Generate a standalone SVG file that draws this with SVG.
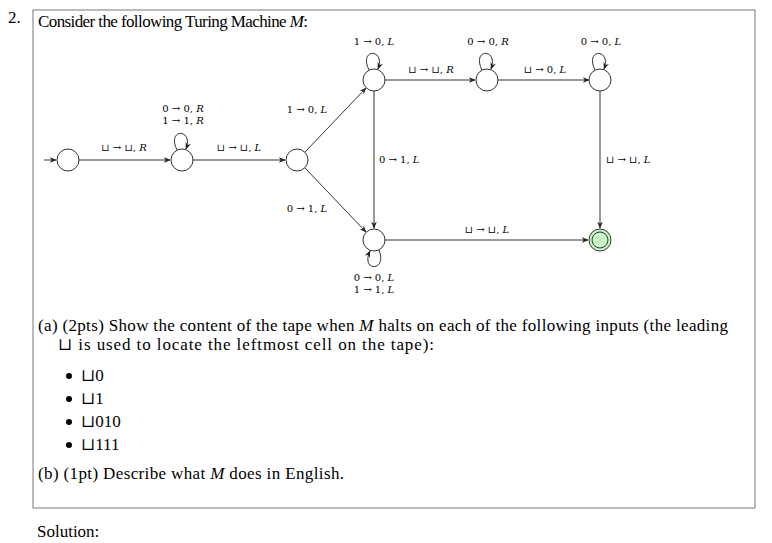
<svg xmlns="http://www.w3.org/2000/svg" width="772" height="543" viewBox="0 0 772 543">
<style>
text{font-family:"Liberation Serif","DejaVu Serif",serif;fill:#000}
.t{font-size:17px}
.s{font-size:10px;font-family:"DejaVu Serif",serif}
.st{fill:#fff;stroke:#333;stroke-width:1}
.e{fill:none;stroke:#333;stroke-width:1}
</style>
<defs><marker id="a" viewBox="0 0 10 10" refX="9" refY="5" markerWidth="7" markerHeight="7" orient="auto"><path d="M0,1 L10,5 L0,9 L3,5z" fill="#222"/></marker></defs>
<rect width="772" height="543" fill="#fff"/>
<text class="t" x="8" y="23">2.</text>
<rect x="33" y="10" width="722" height="498" fill="none" stroke="#555" stroke-width="0.8"/>
<text class="t" x="38" y="27" textLength="270">Consider the following Turing Machine <tspan font-style="italic">M</tspan>:</text>
<g id="connectors">
<path class="e" d="M44,160 H56" marker-end="url(#a)"/>
<path class="e" d="M79,160 H170" marker-end="url(#a)"/>
<path class="e" d="M193,160 H285" marker-end="url(#a)"/>
<path class="e" d="M305,152 L366,88" marker-end="url(#a)"/>
<path class="e" d="M305,168 L366,232" marker-end="url(#a)"/>
<path class="e" d="M385,80 H475" marker-end="url(#a)"/>
<path class="e" d="M498,80 H589" marker-end="url(#a)"/>
<path class="e" d="M374,91 V228" marker-end="url(#a)"/>
<path class="e" d="M600,91 V228" marker-end="url(#a)"/>
<path class="e" d="M385,240 H588" marker-end="url(#a)"/>
<path class="e" d="M177,150 C166,128 194,128 186,149" marker-end="url(#a)"/>
<path class="e" d="M369,70 C358,48 386,48 378,69" marker-end="url(#a)"/>
<path class="e" d="M482,70 C471,48 499,48 491,69" marker-end="url(#a)"/>
<path class="e" d="M595,70 C584,48 612,48 604,69" marker-end="url(#a)"/>
<path class="e" d="M379,250 C388,272 360,272 370,251" marker-end="url(#a)"/>
</g>
<g id="labels">
<text class="s" x="124" y="151" text-anchor="middle">⊔ → ⊔, <tspan font-style="italic">R</tspan></text>
<text class="s" x="183" y="112" text-anchor="middle">0 → 0, <tspan font-style="italic">R</tspan></text>
<text class="s" x="183" y="124" text-anchor="middle">1 → 1, <tspan font-style="italic">R</tspan></text>
<text class="s" x="239" y="151" text-anchor="middle">⊔ → ⊔, <tspan font-style="italic">L</tspan></text>
<text class="s" x="307" y="113" text-anchor="middle">1 → 0, <tspan font-style="italic">L</tspan></text>
<text class="s" x="307" y="212" text-anchor="middle">0 → 1, <tspan font-style="italic">L</tspan></text>
<text class="s" x="374" y="45" text-anchor="middle">1 → 0, <tspan font-style="italic">L</tspan></text>
<text class="s" x="488" y="45" text-anchor="middle">0 → 0, <tspan font-style="italic">R</tspan></text>
<text class="s" x="601" y="45" text-anchor="middle">0 → 0, <tspan font-style="italic">L</tspan></text>
<text class="s" x="431" y="73" text-anchor="middle">⊔ → ⊔, <tspan font-style="italic">R</tspan></text>
<text class="s" x="545" y="73" text-anchor="middle">⊔ → 0, <tspan font-style="italic">L</tspan></text>
<text class="s" x="379" y="163">0 → 1, <tspan font-style="italic">L</tspan></text>
<text class="s" x="606" y="163">⊔ → ⊔, <tspan font-style="italic">L</tspan></text>
<text class="s" x="487" y="233" text-anchor="middle">⊔ → ⊔, <tspan font-style="italic">L</tspan></text>
<text class="s" x="374" y="281" text-anchor="middle">0 → 0, <tspan font-style="italic">L</tspan></text>
<text class="s" x="374" y="293" text-anchor="middle">1 → 1, <tspan font-style="italic">L</tspan></text>
</g>
<g id="q0"><circle class="st" cx="68" cy="160" r="11"/></g>
<g id="q1"><circle class="st" cx="182" cy="160" r="11"/></g>
<g id="q2"><circle class="st" cx="297" cy="160" r="11"/></g>
<g id="q3"><circle class="st" cx="374" cy="80" r="11"/></g>
<g id="q4"><circle class="st" cx="487" cy="80" r="11"/></g>
<g id="q5"><circle class="st" cx="600" cy="80" r="11"/></g>
<g id="q6"><circle class="st" cx="374" cy="240" r="11"/></g>
<g id="qf"><circle cx="600" cy="240" r="11" fill="#c8f5c8" stroke="#333"/><circle cx="600" cy="240" r="8" fill="none" stroke="#333"/></g>
<text class="t" x="38" y="331" textLength="690">(a) (2pts) Show the content of the tape when <tspan font-style="italic">M</tspan> halts on each of the following inputs (the leading</text>
<text class="t" x="58" y="350" textLength="376">⊔ is used to locate the leftmost cell on the tape):</text>
<circle cx="69" cy="376" r="3"/><text class="t" x="81" y="381">⊔0</text>
<circle cx="69" cy="399" r="3"/><text class="t" x="81" y="404">⊔1</text>
<circle cx="69" cy="422" r="3"/><text class="t" x="81" y="427">⊔010</text>
<circle cx="69" cy="445" r="3"/><text class="t" x="81" y="450">⊔111</text>
<text class="t" x="38" y="479" textLength="306">(b) (1pt) Describe what <tspan font-style="italic">M</tspan> does in English.</text>
<text class="t" x="37" y="537">Solution:</text>
</svg>
